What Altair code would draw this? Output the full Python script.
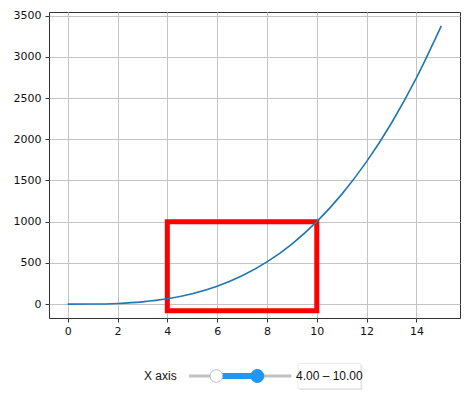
import altair as alt
import pandas as pd

# ---- data ----
x_vals = list(range(16))
y_vals = [0, 1, 8, 27, 64, 125, 216, 343, 512, 729, 1000, 1331, 1728, 2197, 2744, 3375]
x_ticks = [0, 2, 4, 6, 8, 10, 12, 14]
y_ticks = [0, 500, 1000, 1500, 2000, 2500, 3000, 3500]
sel_lo, sel_hi = 4.0, 10.0
rect_y_lo, rect_y_hi = -80, 1000
slider_min, slider_max = 0, 15
slider_label = "X axis"
value_text = f"{sel_lo:.2f} \u2013 {sel_hi:.2f}"

FONT = "DejaVu Sans"
UIFONT = "Liberation Sans"

curve = pd.DataFrame({"x": x_vals, "y": y_vals})
rect_df = pd.DataFrame({"x": [sel_lo], "x2": [sel_hi], "y": [rect_y_lo], "y2": [rect_y_hi]})

xs = alt.Scale(domain=[-0.75, 15.75], nice=False, zero=False)
ys = alt.Scale(domain=[-168.75, 3543.75], nice=False, zero=False)

x_axis = alt.Axis(values=x_ticks, title=None, format="d", grid=True, gridColor="#c4c4c4",
                  gridWidth=1, domain=False, tickColor="#333", tickSize=4, labelPadding=3,
                  labelFont=FONT, labelFontSize=11, labelColor="#111",
                  minExtent=20, maxExtent=20)
y_axis = alt.Axis(values=y_ticks, title=None, format="d", grid=True, gridColor="#c4c4c4",
                  gridWidth=1, domain=False, tickColor="#333", tickSize=4, labelPadding=4,
                  labelFont=FONT, labelFontSize=11, labelColor="#111",
                  minExtent=37, maxExtent=37)

box = alt.Chart(rect_df).mark_rect(fillOpacity=0, stroke="#ff0000", strokeWidth=5).encode(
    x=alt.X("x:Q", scale=xs, axis=x_axis),
    x2="x2",
    y=alt.Y("y:Q", scale=ys, axis=y_axis),
    y2="y2",
)
line = alt.Chart(curve).mark_line(color="#1f77b4", strokeWidth=1.6, interpolate="monotone").encode(
    x=alt.X("x:Q", scale=xs, axis=x_axis),
    y=alt.Y("y:Q", scale=ys, axis=y_axis),
)
main = alt.layer(box, line).properties(
    width=411, height=306, view=alt.ViewBackground(stroke="#333", strokeWidth=1)
)

# ---- slider widget drawn as marks ----
sxs = alt.Scale(domain=[-20.5, 39.68], nice=False, zero=False)
sys_ = alt.Scale(domain=[0, 1], nice=False, zero=False)

track_df = pd.DataFrame({"a": [slider_min], "b": [slider_max], "y": [0.5]})
sel_df = pd.DataFrame({"a": [sel_lo], "b": [sel_hi], "y": [0.5]})
lo_df = pd.DataFrame({"a": [sel_lo], "y": [0.5]})
hi_df = pd.DataFrame({"a": [sel_hi], "y": [0.5]})
label_df = pd.DataFrame({"a": [-1.8], "y": [0.5], "t": [slider_label]})
vbox_df = pd.DataFrame({"a": [15.96], "b": [25.14], "y": [0.08], "y2": [0.92]})
vtext_df = pd.DataFrame({"a": [20.55], "y": [0.5], "t": [value_text]})

def sx(f="a"):
    return alt.X(f"{f}:Q", scale=sxs, axis=None)

def sy(f="y"):
    return alt.Y(f"{f}:Q", scale=sys_, axis=None)

track = alt.Chart(track_df).mark_rule(color="#c2c2c2", strokeWidth=3).encode(x=sx(), x2="b", y=sy())
selr = alt.Chart(sel_df).mark_rule(color="#2196f3", strokeWidth=6).encode(x=sx(), x2="b", y=sy())
lo_h = alt.Chart(lo_df).mark_point(filled=True, fill="white", stroke="#bdbdbd", strokeWidth=1,
                                  size=160, opacity=1).encode(x=sx(), y=sy())
hi_h = alt.Chart(hi_df).mark_point(filled=True, fill="#2196f3", stroke="#2196f3", strokeWidth=1,
                                  size=170, opacity=1).encode(x=sx(), y=sy())
lab = alt.Chart(label_df).mark_text(align="right", baseline="middle", font=UIFONT, fontSize=12,
                                   color="#111").encode(x=sx(), y=sy(), text="t:N")
shadow = alt.Chart(vbox_df).mark_rect(fill="#d6d6d6", opacity=0.7, xOffset=1.5, yOffset=1.5,
                                     x2Offset=1.5, y2Offset=1.5).encode(x=sx(), x2="b", y=sy(), y2="y2")
vbox = alt.Chart(vbox_df).mark_rect(fill="white", stroke="#ececec", strokeWidth=1).encode(
    x=sx(), x2="b", y=sy(), y2="y2")
vtext = alt.Chart(vtext_df).mark_text(align="center", baseline="middle", font=UIFONT, fontSize=12,
                                     color="#111").encode(x=sx(), y=sy(), text="t:N")

slider = alt.layer(track, selr, lo_h, hi_h, lab, shadow, vbox, vtext).properties(
    width=411, height=30, view=alt.ViewBackground(stroke=None)
)

chart = alt.vconcat(main, slider, spacing=22).resolve_scale(
    x="independent", y="independent"
).properties(
    padding={"left": 3, "top": 1, "right": 5, "bottom": 5},
    background="white",
)

chart.save("out.html", embed_options={"renderer": "svg", "actions": False})
